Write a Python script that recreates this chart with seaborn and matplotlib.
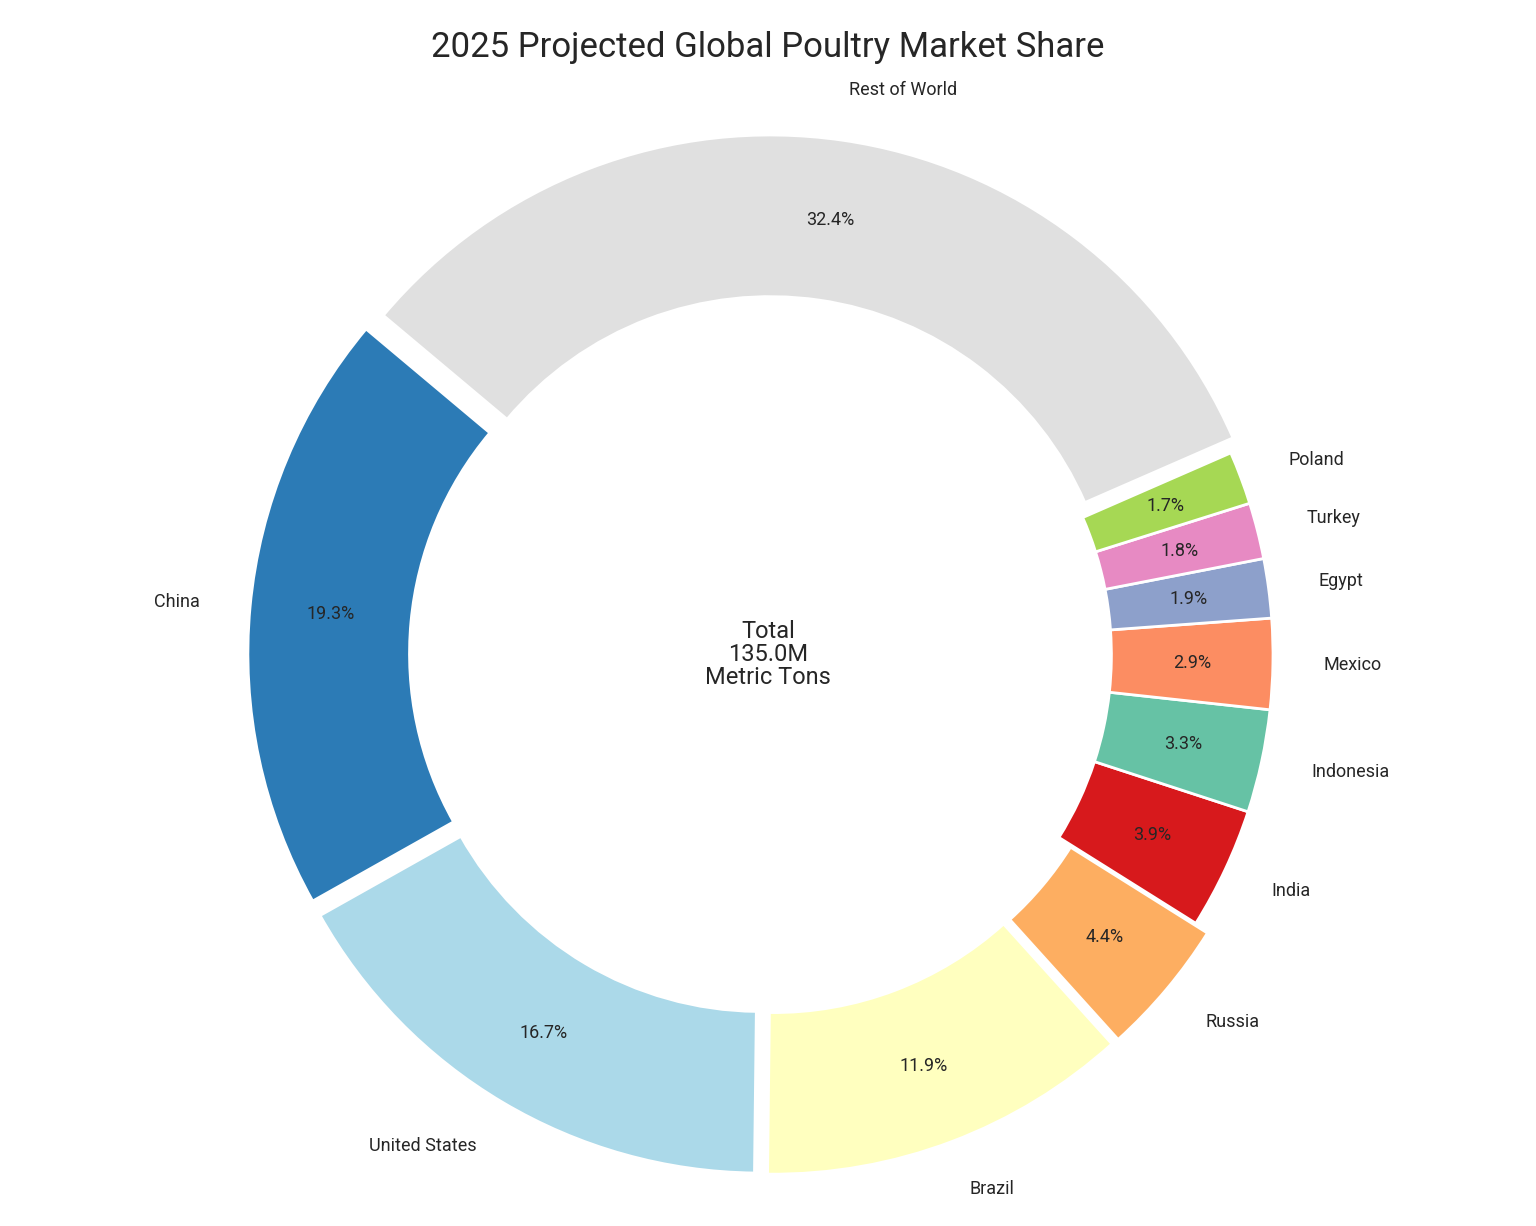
import matplotlib
matplotlib.use("Agg")
import matplotlib.pyplot as plt
import seaborn as sns

sns.set_theme(style="white")
plt.rcParams['font.family'] = ['Roboto', 'DejaVu Sans']

countries = ['China', 'United States', 'Brazil', 'Russia', 'India', 'Indonesia',
             'Mexico', 'Egypt', 'Turkey', 'Poland', 'Rest of World']
shares = [19.3, 16.7, 11.9, 4.4, 3.9, 3.3, 2.9, 1.9, 1.8, 1.7, 32.4]
total_mt = 135.0
colors = ['#2c7bb6', '#abd9e9', '#ffffbf', '#fdae61', '#d7191c', '#66c2a5',
          '#fc8d62', '#8da0cb', '#e78ac3', '#a6d854', '#e0e0e0']
explode = [0.03, 0.03, 0.03, 0.03, 0, 0, 0, 0, 0, 0, 0.03]

fig = plt.figure(figsize=(15.36, 12.26), dpi=100)
ax = fig.add_axes([0, 0, 1, 1])
wedges, texts, autotexts = ax.pie(
    shares, labels=countries, colors=colors, explode=explode,
    startangle=140, counterclock=True, autopct='%1.1f%%',
    pctdistance=0.84, labeldistance=1.1,
    wedgeprops=dict(width=0.32, edgecolor='white', linewidth=2),
    textprops=dict(fontsize=13))
for t, s in zip(autotexts, shares):
    t.set_text(f"{s:.1f}%")
    t.set_fontsize(13)

ax.text(0, 0, f"Total\n{total_mt:.1f}M\nMetric Tons", ha='center', va='center',
        fontsize=17, linespacing=1.0)
ax.set_aspect('equal')
ax.set_xlim(-768 / 505, 768 / 505)
ax.set_ylim(-(1226 - 655) / 505, 655 / 505)
ax.axis('off')
fig.text(0.5, 0.975, "2025 Projected Global Poultry Market Share", ha='center',
         va='top', fontsize=25)
fig.savefig("out.png", dpi=100)
